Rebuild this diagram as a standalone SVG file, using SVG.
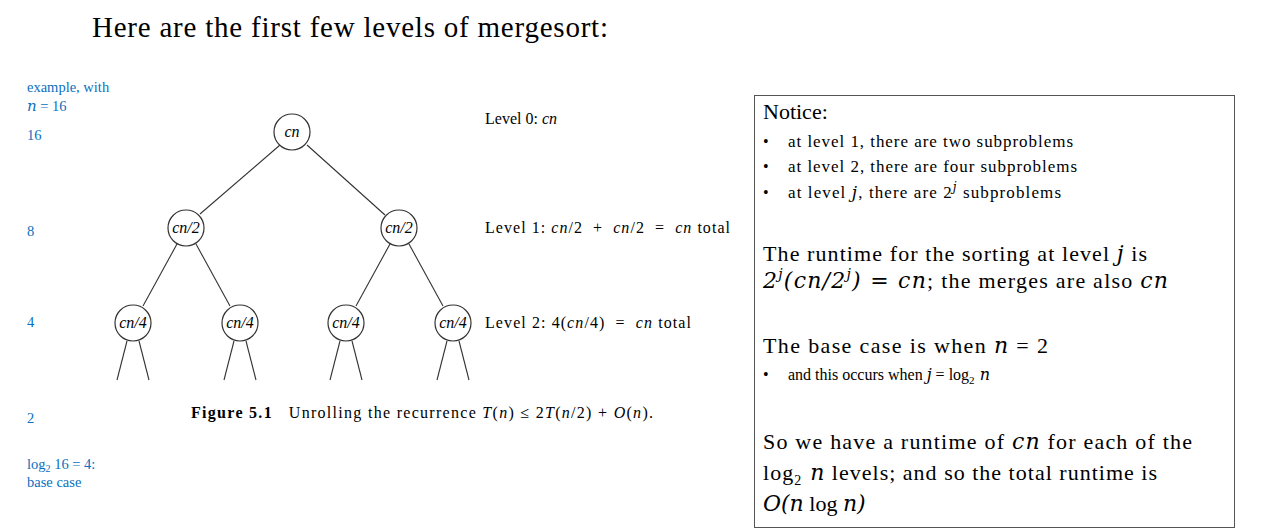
<svg xmlns="http://www.w3.org/2000/svg" width="1271" height="532" viewBox="0 0 1271 532">
<style>
.s{font-family:"Liberation Serif",serif;fill:#000}
.m{font-family:"DejaVu Serif",serif;font-style:italic}
.b{font-family:"Liberation Serif",serif;fill:#0a70c0;font-size:14.5px}
.n circle{fill:#fff;stroke:#333;stroke-width:1.2}
.n text{font-family:"Liberation Serif",serif;font-style:italic;font-size:16px;text-anchor:middle}
#edges line{stroke:#333;stroke-width:1.1}
.i{font-style:italic}
</style>
<rect width="1271" height="532" fill="#fff"/>
<text class="s" x="92" y="37" font-size="29" textLength="516">Here are the first few levels of mergesort:</text>
<text class="b" x="27" y="92">example, with</text>
<text class="b" x="27" y="111" font-size="16"><tspan class="m" font-size="15">n</tspan> = 16</text>
<text class="b" x="27" y="140">16</text>
<text class="b" x="27" y="236">8</text>
<text class="b" x="27" y="327">4</text>
<text class="b" x="27" y="423">2</text>
<text class="b" x="27" y="469" font-size="15">log<tspan font-size="10" dy="3">2</tspan><tspan dy="-3"> 16 = 4:</tspan></text>
<text class="b" x="27" y="487">base case</text>
<g id="edges">
<line x1="280" y1="145" x2="200" y2="214"/><line x1="307" y1="145" x2="385" y2="215"/>
<line x1="177" y1="244" x2="143" y2="306"/><line x1="196" y1="244" x2="230" y2="306"/>
<line x1="390" y1="244" x2="356" y2="306"/><line x1="409" y1="244" x2="443" y2="306"/>
<line x1="127" y1="341" x2="117" y2="380"/><line x1="139" y1="341" x2="149" y2="380"/>
<line x1="234" y1="341" x2="224" y2="380"/><line x1="246" y1="341" x2="256" y2="380"/>
<line x1="340" y1="341" x2="330" y2="380"/><line x1="352" y1="341" x2="362" y2="380"/>
<line x1="447" y1="341" x2="437" y2="380"/><line x1="459" y1="341" x2="469" y2="380"/>
</g>
<g id="root" class="n"><circle cx="292" cy="132" r="18"/><text x="292" y="137">cn</text></g>
<g id="l1a" class="n"><circle cx="186" cy="228" r="18"/><text x="186" y="233">cn/2</text></g>
<g id="l1b" class="n"><circle cx="399" cy="228" r="18"/><text x="399" y="233">cn/2</text></g>
<g id="l2a" class="n"><circle cx="133" cy="323" r="18"/><text x="133" y="328">cn/4</text></g>
<g id="l2b" class="n"><circle cx="240" cy="323" r="18"/><text x="240" y="328">cn/4</text></g>
<g id="l2c" class="n"><circle cx="346" cy="323" r="18"/><text x="346" y="328">cn/4</text></g>
<g id="l2d" class="n"><circle cx="453" cy="323" r="18"/><text x="453" y="328">cn/4</text></g>
<text class="s" x="485" y="124" font-size="16">Level 0: <tspan class="i">cn</tspan></text>
<text class="s" x="485" y="233" font-size="16" xml:space="preserve" textLength="245">Level 1: <tspan class="i">cn</tspan>/2  +  <tspan class="i">cn</tspan>/2  =  <tspan class="i">cn</tspan> total</text>
<text class="s" x="485" y="328" font-size="16" xml:space="preserve" textLength="206">Level 2: 4(<tspan class="i">cn</tspan>/4)  =  <tspan class="i">cn</tspan> total</text>
<text class="s" x="191" y="418" font-size="16" xml:space="preserve" textLength="462"><tspan font-weight="bold">Figure 5.1</tspan>   Unrolling the recurrence <tspan class="i">T</tspan>(<tspan class="i">n</tspan>) ≤ 2<tspan class="i">T</tspan>(<tspan class="i">n</tspan>/2) + <tspan class="i">O</tspan>(<tspan class="i">n</tspan>).</text>
<g id="notes">
<rect x="754.5" y="95.5" width="480" height="432" fill="none" stroke="#555" stroke-width="1"/>
<text class="s" x="763" y="119" font-size="22">Notice:</text>
<text class="s" x="763" y="147" font-size="16">•</text><text class="s" x="788" y="147" font-size="17" textLength="285">at level 1, there are two subproblems</text>
<text class="s" x="763" y="172" font-size="16">•</text><text class="s" x="788" y="172" font-size="17" textLength="289">at level 2, there are four subproblems</text>
<text class="s" x="763" y="198" font-size="16">•</text><text class="s" x="788" y="198" font-size="17" textLength="273">at level <tspan class="m">j</tspan>, there are 2<tspan font-size="12" dy="-7" class="m">j</tspan><tspan dy="7"> subproblems</tspan></text>
<text class="s" x="763" y="261" font-size="22" textLength="384">The runtime for the sorting at level <tspan class="m">j</tspan> is</text>
<text class="s" x="763" y="288" font-size="22" textLength="405"><tspan class="m">2</tspan><tspan font-size="14" dy="-9" class="m">j</tspan><tspan dy="9" class="m">(cn/2</tspan><tspan font-size="14" dy="-9" class="m">j</tspan><tspan dy="9" class="m">) = cn</tspan>; the merges are also <tspan class="m">cn</tspan></text>
<text class="s" x="763" y="353" font-size="22" textLength="285">The base case is when <tspan class="m">n</tspan> = 2</text>
<text class="s" x="763" y="380" font-size="16">•</text><text class="s" x="788" y="380" font-size="16">and this occurs when <tspan class="m">j</tspan> = log<tspan font-size="11" dy="4">2</tspan><tspan dy="-4" class="m"> n</tspan></text>
<text class="s" x="763" y="449" font-size="22" textLength="429">So we have a runtime of <tspan class="m">cn</tspan> for each of the</text>
<text class="s" x="763" y="480" font-size="22" textLength="394">log<tspan font-size="14" dy="5">2</tspan><tspan dy="-5" class="m"> n</tspan> levels; and so the total runtime is</text>
<text class="s" x="763" y="511" font-size="22"><tspan class="m">O(n</tspan> log <tspan class="m">n)</tspan></text>
</g>
</svg>
